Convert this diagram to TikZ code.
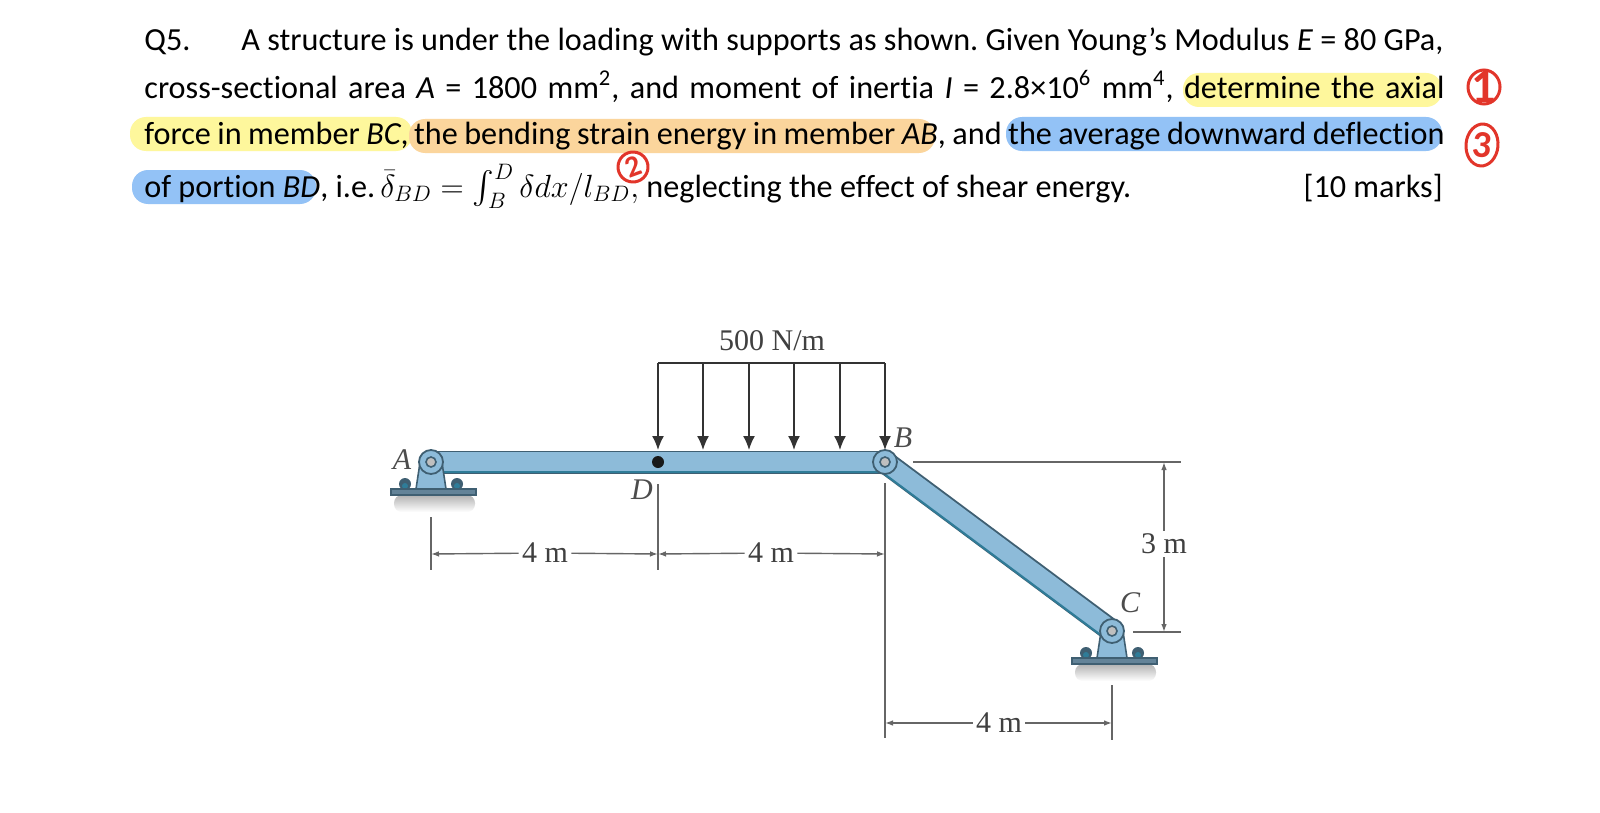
\documentclass[tikz,border=0pt]{standalone}
\usepackage{amsmath,amssymb}
\usepackage{xcolor}
\usepackage{fontspec}
\setmainfont{Carlito}[Ligatures=NoCommon]
\newfontfamily\figfont{Liberation Serif}
\usepackage{tikz}
\usetikzlibrary{arrows.meta,shapes.geometric}

\definecolor{hlyellow}{HTML}{FEF79C}
\definecolor{hlorange}{HTML}{FBD59C}
\definecolor{hlblue}{HTML}{93C2F6}
\definecolor{barblue}{HTML}{8DBBD9}
\definecolor{bardark}{HTML}{3F5F72}
\definecolor{barteal}{HTML}{2F7C98}
\definecolor{penred}{HTML}{E2352A}

\tikzset{
  textline/.style={anchor=base west,inner sep=0pt,font=\frenchspacing\fontsize{16.1}{18}\selectfont},
  figlabel/.style={inner sep=1.5pt,font=\figfont\fontsize{15}{18}\selectfont\color{black!75}},
  figname/.style={figlabel,font=\figfont\itshape\fontsize{15}{18}\selectfont\color{black!70}},
  dimline/.style={black!60,line width=0.7pt},
  dimarrow/.style={dimline,-{Latex[length=4pt,width=2.8pt]}},
  loadline/.style={black!80,line width=0.8pt},
  loadarrow/.style={loadline,-{Latex[length=7pt,width=6pt]}},
  penmark/.style={draw=penred,text=penred,ellipse,line width=1.5pt,inner sep=-4pt,font=\bfseries\fontsize{19}{20}\selectfont},
}

\begin{document}
\begin{tikzpicture}[x=0.5pt,y=-0.5pt]
            \useasboundingbox[fill=white] (0,0) rectangle (1600,813);

            % highlights
            \fill[hlyellow,rounded corners=8pt] (1183,73) rectangle (1442,107);
            \fill[hlyellow,rounded corners=8pt] (130,117) rectangle (412,151);
            \fill[hlorange,rounded corners=8pt] (409,119) rectangle (935,153);
            \fill[hlblue,rounded corners=8pt] (1006,117) rectangle (1442,151);
            \fill[hlblue,rounded corners=8pt] (132,170) rectangle (316,204);

            % question text
            \node[textline] (q5) at (144,51) {Q5.};
            \node[textline] (line1) at (241,51) {\makebox[601pt][s]{A structure is under the loading with supports as shown. Given Young’s Modulus \textit{E} = 80 GPa,}};
            \node[textline] (line2) at (144,98) {\makebox[650pt][s]{cross-sectional area \textit{A} = 1800 mm\textsuperscript{2}, and moment of inertia \textit{I} = 2.8×10\textsuperscript{6} mm\textsuperscript{4}, determine the axial}};
            \node[textline] (line3) at (144,145) {\makebox[650pt][s]{force in member \textit{BC},\,the bending strain energy in member \textit{AB}, and the average downward deflection}};
            \node[textline] (line4) at (144,197) {of portion \textit{BD}, i.e.};
            \node[textline,font=\fontsize{17.5}{20}\selectfont] (formula) at (380,197) {\scalebox{0.93}{$\bar{\delta}_{BD}=\int_{B}^{D}\delta dx/l_{BD},$}};
            \node[textline] (line4b) at (646,197) {neglecting the effect of shear energy.};
            \node[textline,anchor=base east] (marks) at (1443,197) {[10 marks]};

            % pen marks
            \node[penmark,minimum width=16pt,minimum height=17pt,font=\bfseries\fontsize{24}{24}\selectfont] (mark1) at (1484,87) {1};
            \node[penmark,minimum width=16pt,minimum height=21pt,rotate=-5] (mark3) at (1482,145) {3};
            \node[penmark,minimum width=15pt,minimum height=15pt,rotate=20,font=\bfseries\fontsize{15}{16}\selectfont] (mark2) at (633,167) {2};

            \coordinate (A) at (431,462);
            \coordinate (B) at (885,462);
            \coordinate (C) at (1112,631);
            \coordinate (D) at (658,462);

            % members
            \draw[bardark,line width=11.5pt] (A) -- (B);
            \draw[barblue,line width=9.6pt] (A) -- (B);
            \draw[barteal,line width=1pt] ([yshift=-5pt]A) -- ([yshift=-5pt]B);
            \draw[bardark,line width=11.5pt] (B) -- (C);
            \draw[barblue,line width=9.6pt] (B) -- (C);
            \draw[barteal,line width=1pt] ([shift={(-6,8)}]B) -- ([shift={(-6,8)}]C);

            % supports
            \foreach \pin in {A,C} {
              \begin{scope}[shift={(\pin)}]
                \shade[top color=black!30,bottom color=white,rounded corners=4pt] (-37,33) rectangle (44,50);
                \fill[bardark] (-26,22) circle (6);
                \fill[bardark] (26,22) circle (6);
                \fill[barteal] (-26,24) circle (3);
                \fill[barteal] (26,24) circle (3);
                \draw[bardark,fill=barblue,line width=0.8pt] (-15,27) -- (-10,-6) -- (10,-6) -- (15,27) -- cycle;
                \draw[bardark,fill=barblue!70!black,line width=0.6pt] (-40,27) -- (45,27) -- (45,33) -- (-40,33) -- cycle;
              \end{scope}
            }

            % pins
            \foreach \pin in {A,B,C} {
              \draw[bardark,fill=barblue,line width=0.9pt] (\pin) circle (12);
              \draw[bardark,fill=black!25,line width=0.8pt] (\pin) circle (5);
            }
            \node[circle,fill=black!90,minimum size=6pt,inner sep=0pt] (dot) at (D) {};

            % distributed load
            \coordinate (load1) at (658,363);
            \coordinate (load6) at (885,363);
            \draw[loadline] (load1) -- (load6);
            \foreach \x in {658,703,749,794,840,885} {
              \draw[loadarrow] (\x,363) -- (\x,450);
            }
            \node[figlabel] (load) at (772,341) {500 N/m};

            % point labels
            \node[figname] (labelA) at (402,460) {A};
            \node[figname] (labelB) at (903,438) {B};
            \node[figname] (labelC) at (1130,603) {C};
            \node[figname] (labelD) at (642,490) {D};

            % extension lines
            \coordinate (extA1) at (431,517);
            \coordinate (extA2) at (431,570);
            \coordinate (extD1) at (658,484);
            \coordinate (extD2) at (658,570);
            \coordinate (extB1) at (885,483);
            \coordinate (extB2) at (885,738);
            \coordinate (extC1) at (1112,685);
            \coordinate (extC2) at (1112,740);
            \coordinate (extT1) at (913,462);
            \coordinate (extT2) at (1181,462);
            \coordinate (extU1) at (1133,632);
            \coordinate (extU2) at (1181,632);
            \draw[dimline] (extA1) -- (extA2);
            \draw[dimline] (extD1) -- (extD2);
            \draw[dimline] (extB1) -- (extB2);
            \draw[dimline] (extC1) -- (extC2);
            \draw[dimline] (extT1) -- (extT2);
            \draw[dimline] (extU1) -- (extU2);

            % dimensions
            \coordinate (dimA) at (431,554);
            \coordinate (dimDl) at (658,554);
            \coordinate (dimDr) at (658,554);
            \coordinate (dimB) at (885,554);
            \coordinate (dimBl) at (885,723);
            \coordinate (dimC) at (1112,723);
            \coordinate (dimT) at (1164,462);
            \coordinate (dimU) at (1164,632);
            \node[figlabel] (dim1) at (545,553) {4 m};
            \node[figlabel] (dim2) at (771,553) {4 m};
            \node[figlabel] (dim3) at (999,723) {4 m};
            \node[figlabel] (dim4) at (1164,544) {3 m};
            \draw[dimarrow] (dim1) -- (dimA);
            \draw[dimarrow] (dim1) -- (dimDl);
            \draw[dimarrow] (dim2) -- (dimDr);
            \draw[dimarrow] (dim2) -- (dimB);
            \draw[dimarrow] (dim3) -- (dimBl);
            \draw[dimarrow] (dim3) -- (dimC);
            \draw[dimarrow] (dim4) -- (dimT);
            \draw[dimarrow] (dim4) -- (dimU);
        \end{tikzpicture}
\end{document}
